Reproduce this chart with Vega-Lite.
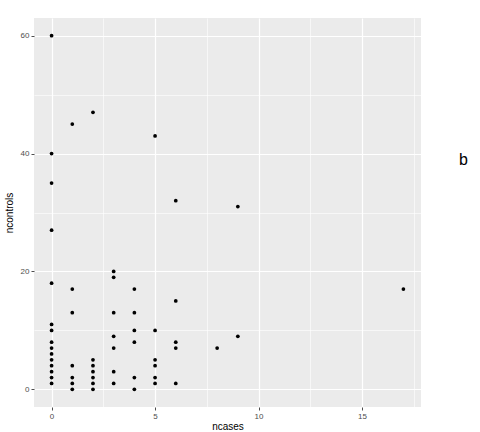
{
  "$schema": "https://vega.github.io/schema/vega-lite/v6.json",
  "width": 387,
  "height": 389,
  "autosize": {"type": "none"},
  "padding": {"left": 34, "top": 18, "right": 59, "bottom": 25},
  "background": "white",
  "config": {
    "view": {"fill": "#EBEBEB", "stroke": null},
    "font": "Liberation Sans",
    "axis": {
      "domain": false,
      "grid": true,
      "gridColor": "white",
      "tickColor": "#4D4D4D",
      "tickSize": 3,
      "labelColor": "#4D4D4D",
      "labelFontSize": 8,
      "labelPadding": 2,
      "titleColor": "black",
      "titleFontSize": 10,
      "titleFontWeight": "normal"
    }
  },
  "data": {
    "values": [
      {"ncases": 0, "ncontrols": 1}, {"ncases": 0, "ncontrols": 2}, {"ncases": 0, "ncontrols": 3},
      {"ncases": 0, "ncontrols": 4}, {"ncases": 0, "ncontrols": 5}, {"ncases": 0, "ncontrols": 6},
      {"ncases": 0, "ncontrols": 7}, {"ncases": 0, "ncontrols": 8}, {"ncases": 0, "ncontrols": 10},
      {"ncases": 0, "ncontrols": 11}, {"ncases": 0, "ncontrols": 18}, {"ncases": 0, "ncontrols": 27},
      {"ncases": 0, "ncontrols": 35}, {"ncases": 0, "ncontrols": 40}, {"ncases": 0, "ncontrols": 60},
      {"ncases": 1, "ncontrols": 0}, {"ncases": 1, "ncontrols": 1}, {"ncases": 1, "ncontrols": 2},
      {"ncases": 1, "ncontrols": 4}, {"ncases": 1, "ncontrols": 13}, {"ncases": 1, "ncontrols": 17},
      {"ncases": 1, "ncontrols": 45},
      {"ncases": 2, "ncontrols": 0}, {"ncases": 2, "ncontrols": 1}, {"ncases": 2, "ncontrols": 2},
      {"ncases": 2, "ncontrols": 3}, {"ncases": 2, "ncontrols": 4}, {"ncases": 2, "ncontrols": 5},
      {"ncases": 2, "ncontrols": 47},
      {"ncases": 3, "ncontrols": 1}, {"ncases": 3, "ncontrols": 3}, {"ncases": 3, "ncontrols": 7},
      {"ncases": 3, "ncontrols": 9}, {"ncases": 3, "ncontrols": 13}, {"ncases": 3, "ncontrols": 19},
      {"ncases": 3, "ncontrols": 20},
      {"ncases": 4, "ncontrols": 0}, {"ncases": 4, "ncontrols": 2}, {"ncases": 4, "ncontrols": 8},
      {"ncases": 4, "ncontrols": 10}, {"ncases": 4, "ncontrols": 13}, {"ncases": 4, "ncontrols": 17},
      {"ncases": 5, "ncontrols": 1}, {"ncases": 5, "ncontrols": 2}, {"ncases": 5, "ncontrols": 4},
      {"ncases": 5, "ncontrols": 5}, {"ncases": 5, "ncontrols": 10}, {"ncases": 5, "ncontrols": 43},
      {"ncases": 6, "ncontrols": 1}, {"ncases": 6, "ncontrols": 7}, {"ncases": 6, "ncontrols": 8},
      {"ncases": 6, "ncontrols": 15}, {"ncases": 6, "ncontrols": 32},
      {"ncases": 8, "ncontrols": 7},
      {"ncases": 9, "ncontrols": 9}, {"ncases": 9, "ncontrols": 31},
      {"ncases": 17, "ncontrols": 17}
    ]
  },
  "mark": {"type": "circle", "size": 14, "opacity": 1},
  "encoding": {
    "x": {
      "field": "ncases", "type": "quantitative",
      "scale": {"domain": [-0.85, 17.85], "nice": false, "zero": false},
      "axis": {
        "values": [0, 2.5, 5, 7.5, 10, 12.5, 15, 17.5],
        "labelExpr": "datum.value % 5 === 0 ? datum.label : ''",
        "tickOpacity": {"expr": "datum.value % 5 === 0 ? 1 : 0"},
        "gridWidth": {"expr": "datum.value % 5 === 0 ? 1.2 : 0.6"},
        "title": "ncases",
        "titlePadding": 1
      }
    },
    "y": {
      "field": "ncontrols", "type": "quantitative",
      "scale": {"domain": [-3, 63], "nice": false, "zero": false},
      "axis": {
        "values": [0, 10, 20, 30, 40, 50, 60],
        "labelExpr": "datum.value % 20 === 0 ? datum.label : ''",
        "tickOpacity": {"expr": "datum.value % 20 === 0 ? 1 : 0"},
        "gridWidth": {"expr": "datum.value % 20 === 0 ? 1.2 : 0.6"},
        "title": "ncontrols",
        "titlePadding": 6
      }
    },
    "color": {
      "datum": "b",
      "type": "nominal",
      "scale": {"range": ["black"]},
      "legend": {
        "title": null,
        "orient": "none",
        "legendX": 409,
        "legendY": 134,
        "symbolOpacity": 0,
        "symbolSize": 0,
        "labelOffset": 0,
        "labelFontSize": 16,
        "labelColor": "black"
      }
    }
  }
}
